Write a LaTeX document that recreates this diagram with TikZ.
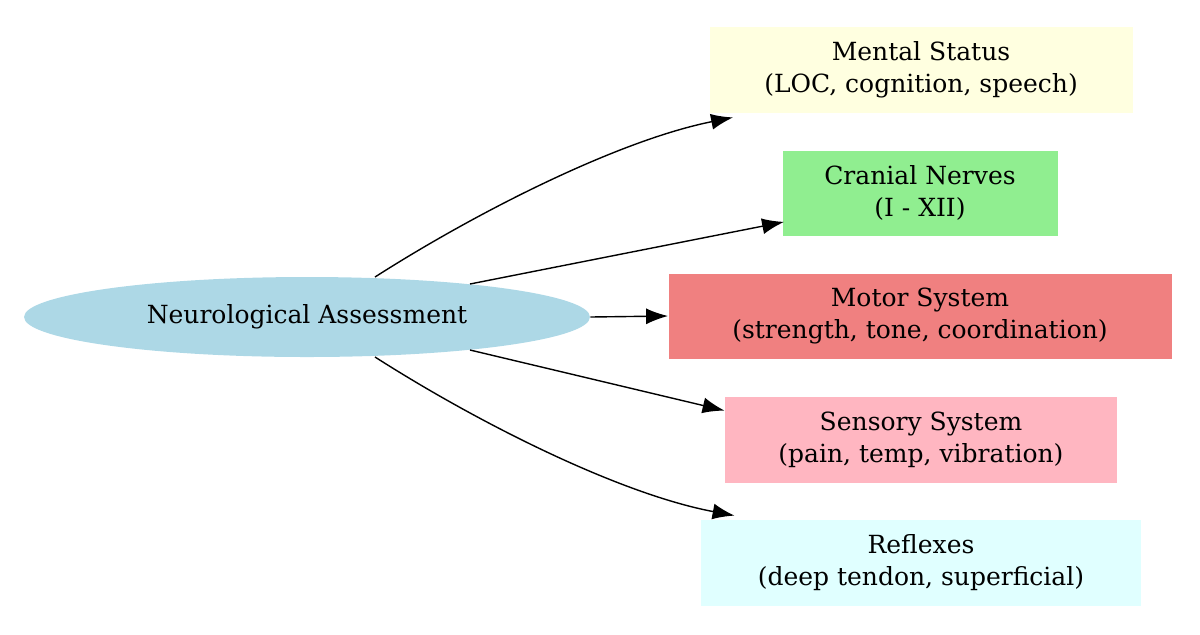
\documentclass[tikz,border=0pt]{standalone}
\usepackage{fontspec}
\setmainfont{DejaVu Serif}
\usetikzlibrary{shapes.geometric,arrows.meta}
\definecolor{lyellow}{RGB}{255,255,224}
\definecolor{lgreen}{RGB}{144,238,144}
\definecolor{lcoral}{RGB}{240,128,128}
\definecolor{lpink}{RGB}{255,182,193}
\definecolor{lcyan}{RGB}{224,255,255}
\definecolor{lblue}{RGB}{173,216,230}
\begin{document}
\begin{tikzpicture}[x=0.5pt,y=-0.5pt,
  box/.style={draw=none,align=center,inner sep=0pt,font=\fontsize{12.5}{16}\selectfont},
  edge/.style={-{Latex[length=11pt,width=8pt]},black,line width=0.7pt}]
\useasboundingbox (0,0) rectangle (1200,634);
\node[ellipse,fill=lblue,minimum width=283pt,minimum height=40pt,inner sep=0pt,font=\fontsize{12.5}{16}\selectfont] (na) at (307,317) {Neurological Assessment};
\node[box,fill=lyellow,minimum width=211.5pt,minimum height=43pt] (ms) at (921,70) {Mental Status\\(LOC, cognition, speech)};
\node[box,fill=lgreen,minimum width=137.5pt,minimum height=42.5pt] (cn) at (920,193) {Cranial Nerves\\(I - XII)};
\node[box,fill=lcoral,minimum width=251.5pt,minimum height=42.5pt] (mo) at (920,316) {Motor System\\(strength, tone, coordination)};
\node[box,fill=lpink,minimum width=196pt,minimum height=43pt] (se) at (921,440) {Sensory System\\(pain, temp, vibration)};
\node[box,fill=lcyan,minimum width=220pt,minimum height=43pt] (re) at (921,563) {Reflexes\\(deep tendon, superficial)};
\coordinate (a1) at (375,277); \coordinate (a2) at (470,284);
\coordinate (a4) at (470,350); \coordinate (a5) at (375,357);
\draw[edge] (a1) .. controls (480,210) and (620,140) .. ([xshift=12pt,yshift=-2pt]ms.south west);
\draw[edge] (a2) to ([xshift=1pt,yshift=7pt]cn.south west);
\draw[edge] (na.east) -- (mo.west);
\draw[edge] (a4) to ([xshift=0pt,yshift=-7pt]se.north west);
\draw[edge] (a5) .. controls (480,424) and (620,494) .. ([xshift=17pt,yshift=2pt]re.north west);
\end{tikzpicture}
\end{document}
